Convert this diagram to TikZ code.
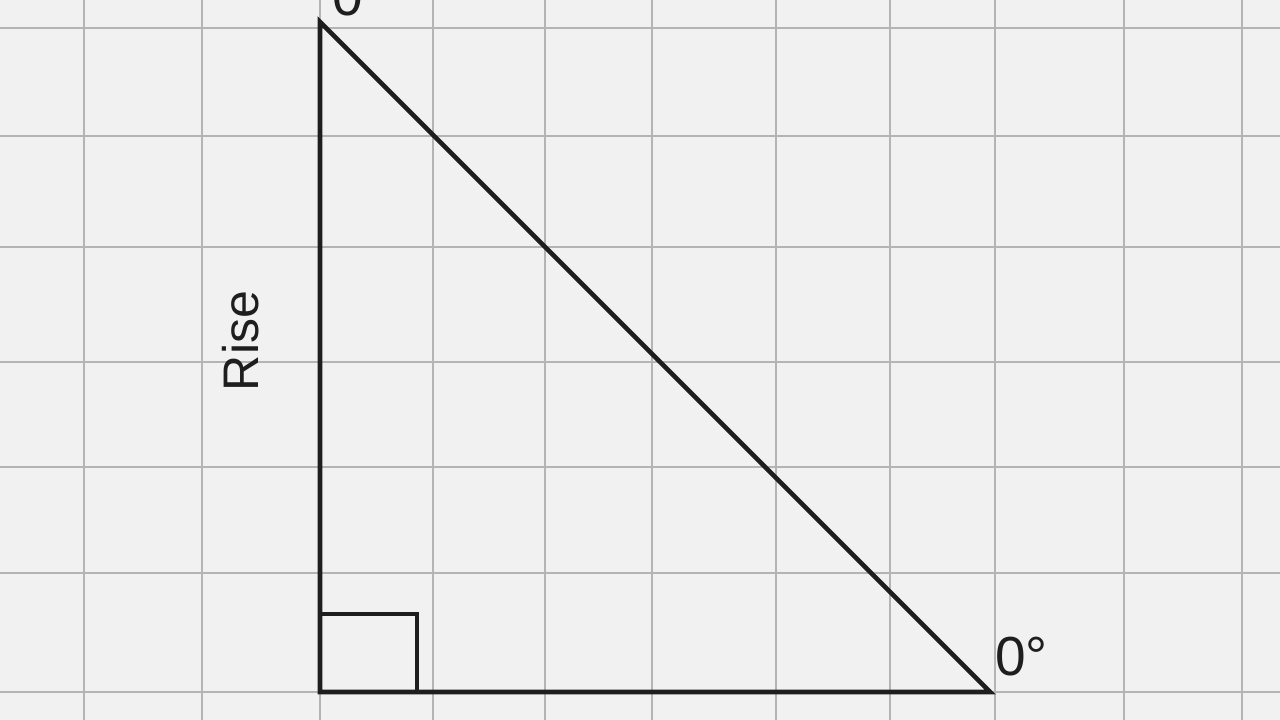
\documentclass[tikz,border=0pt]{standalone}
\usepackage{fontspec}
\setmainfont{Liberation Sans}
\definecolor{bg}{HTML}{F1F1F1}
\definecolor{gridc}{HTML}{B4B4B4}
\definecolor{ink}{HTML}{1E1E1E}
\begin{document}
\begin{tikzpicture}[x=1pt,y=-1pt,
  gridline/.style={draw=gridc,line width=1.8pt},
  edge/.style={draw=ink,line width=4.6pt,line join=miter,line cap=butt},
  lbl/.style={inner sep=0pt,text=ink,font=\fontsize{55}{55}\selectfont}]
\useasboundingbox (0,0) rectangle (1280,720);
\clip (0,0) rectangle (1280,720);
\fill[bg] (0,0) rectangle (1280,720);
% grid
\foreach \x in {84,202,320,433,545,652,776,890,995,1124,1242}
  \draw[gridline] (\x,0) -- (\x,720);
\foreach \y in {28,136,247,362,467,573,692}
  \draw[gridline] (0,\y) -- (1280,\y);
% triangle
\coordinate (A) at (320,22);
\coordinate (B) at (320,692);
\coordinate (C) at (990,692);
\coordinate (R1) at (320,614);
\coordinate (R2) at (417,692);
\draw[edge] (A) -- (B) -- (C) -- cycle;
\draw[edge,line width=4.2pt] (R1) rectangle (R2);
% labels
\node[lbl,anchor=base west] (topangle) at (332,16) {0°};
\node[lbl,anchor=base west] (botangle) at (995,675) {0°};
\node[lbl,font=\fontsize{50}{50}\selectfont,rotate=90] (rise) at (241,341) {Rise};
\end{tikzpicture}
\end{document}
